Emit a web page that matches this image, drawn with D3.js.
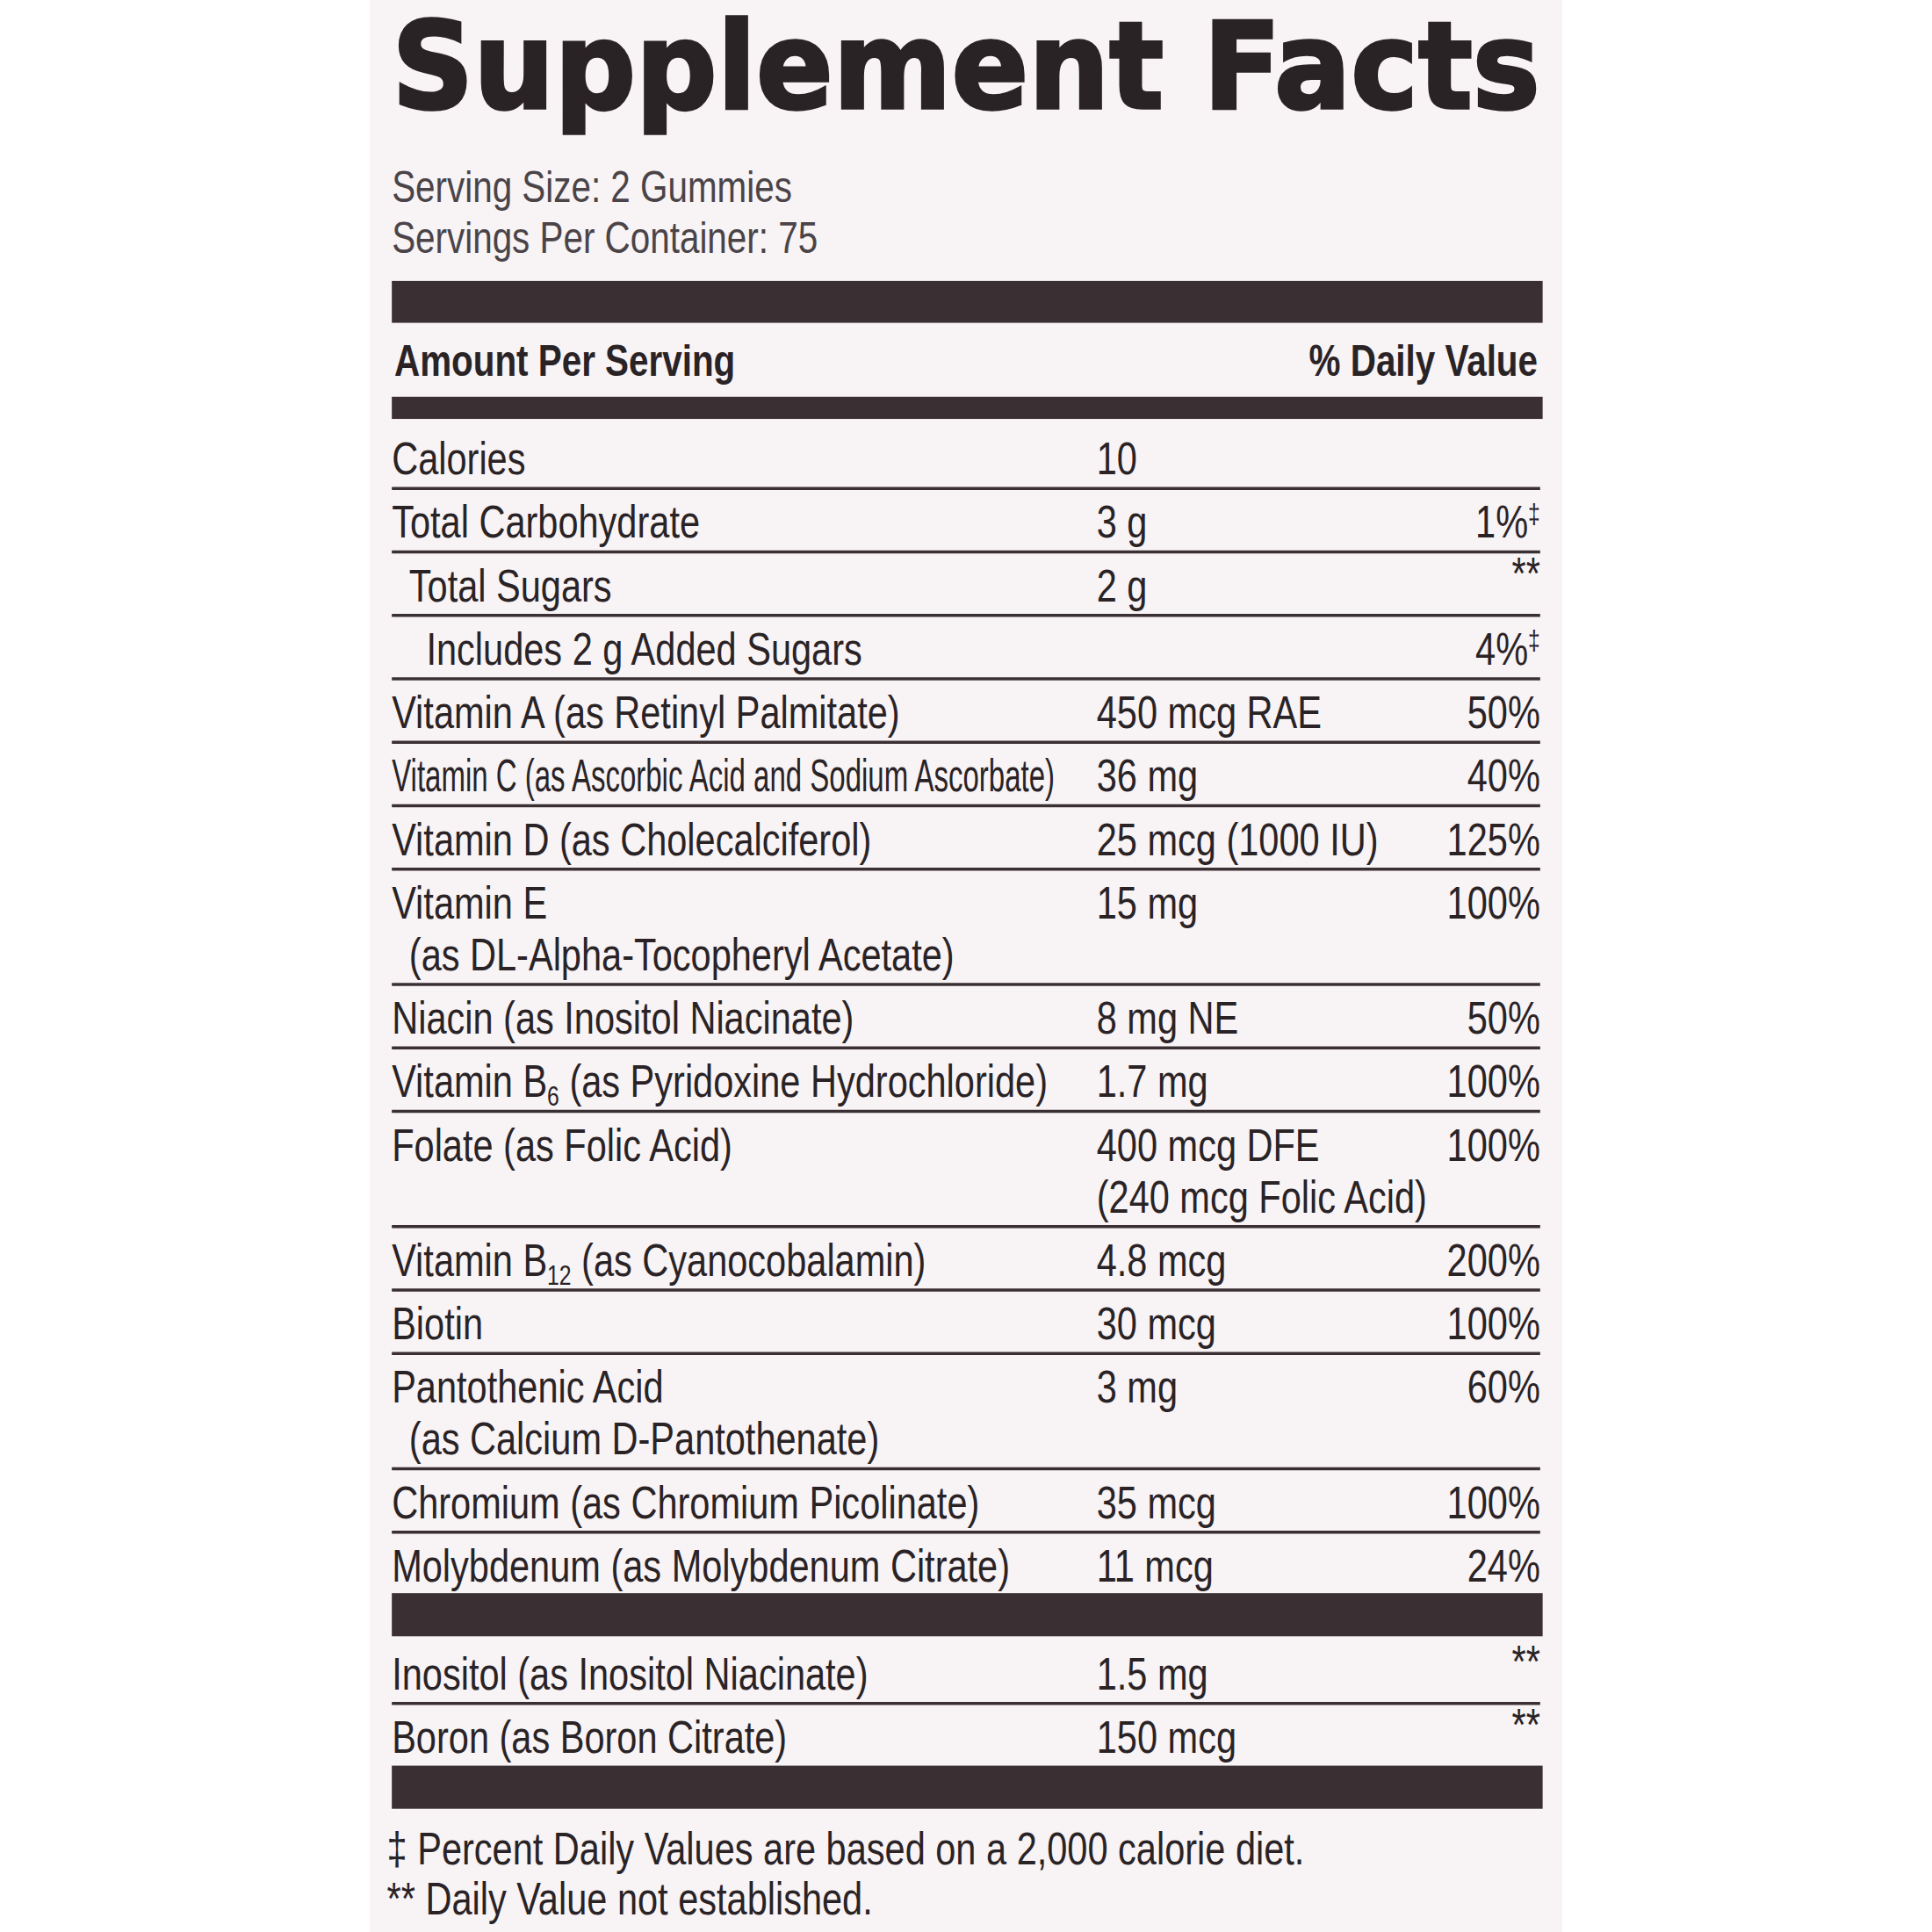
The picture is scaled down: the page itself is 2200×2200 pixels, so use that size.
<!DOCTYPE html>
<html><head><meta charset="utf-8">
<script src="https://cdn.jsdelivr.net/npm/d3@7"></script>
<style>body{margin:0;background:#fff}</style>
</head><body>
<svg id="chart" width="2200" height="2200" viewBox="0 0 1568 1568"></svg>
<script>
// label data
const servingLines = ["Serving Size: 2 Gummies", "Servings Per Container: 75"];
const names = ["Calories","Total Carbohydrate","Total Sugars","Includes 2 g Added Sugars",
  "Vitamin A (as Retinyl Palmitate)","Vitamin C (as Ascorbic Acid and Sodium Ascorbate)",
  "Vitamin D (as Cholecalciferol)","Vitamin E|(as DL-Alpha-Tocopheryl Acetate)",
  "Niacin (as Inositol Niacinate)","Vitamin B_6 (as Pyridoxine Hydrochloride)",
  "Folate (as Folic Acid)","Vitamin B_12 (as Cyanocobalamin)","Biotin",
  "Pantothenic Acid|(as Calcium D-Pantothenate)","Chromium (as Chromium Picolinate)",
  "Molybdenum (as Molybdenum Citrate)","Inositol (as Inositol Niacinate)","Boron (as Boron Citrate)"];
const amounts = ["10","3 g","2 g","","450 mcg RAE","36 mg","25 mcg (1000 IU)","15 mg","8 mg NE","1.7 mg",
  "400 mcg DFE|(240 mcg Folic Acid)","4.8 mcg","30 mcg","3 mg","35 mcg","11 mcg","1.5 mg","150 mcg"];
const dvs = ["","1%‡","**","4%‡","50%","40%","125%","100%","50%","100%","100%","200%","100%","60%","100%","24%","**","**"];
const indents = [0,0,14,28,0,0,0,0,0,0,0,0,0,0,0,0,0,0];
const footnotes = ["‡ Percent Daily Values are based on a 2,000 calorie diet.", "** Daily Value not established."];

const svg = d3.select("#chart");
const ink = "#2a2326", font = "'Liberation Sans',sans-serif";
const L = 318, R = 1250, colAmt = 890, SX = 0.8;

svg.append("rect").attr("x",300).attr("y",0).attr("width",968).attr("height",1568).attr("fill","#f8f3f5");

svg.append("text").attr("x",L).attr("y",88).attr("textLength",R-L).attr("lengthAdjust","spacingAndGlyphs")
  .attr("font-family","'DejaVu Sans',sans-serif").attr("font-weight","bold").attr("font-size",98)
  .attr("fill",ink).attr("stroke",ink).attr("stroke-width",2.5).text("Supplement Facts");

// condensed text helper
function ctext(x, y, anchor, size){
  return svg.append("text").attr("transform",`translate(${x},${y}) scale(${SX},1)`)
    .attr("text-anchor",anchor||"start").attr("font-family",font).attr("font-size",size||36).attr("fill",ink);
}

servingLines.forEach((d,i)=>ctext(L,164+i*41,"start",36).attr("fill","#4a4448").text(d));

function bar(y0,y1){svg.append("rect").attr("x",L).attr("y",y0).attr("width",R-L+2).attr("height",y1-y0).attr("fill","#3a3033");}
bar(228,262);
ctext(L+2,305,"start",36).attr("font-weight","bold").text("Amount Per Serving");
ctext(R-2,305,"end",36).attr("font-weight","bold").text("% Daily Value");
bar(322,340);

// row layout from line counts
const lines = names.map((n,i)=>Math.max(n.split("|").length, amounts[i].split("|").length));
const lineH = 42, rowPad = 9.5;
let y = 346; const tops = [];
lines.forEach((c,i)=>{ if(i===16) y = 1332; tops.push(y); y += c*lineH + rowPad; });

function writeText(isName, str, x, yb, fit){
  str.split("|").forEach((part,k)=>{
    const t = ctext(x + (k>0 && isName ? 14 : 0), yb + k*lineH, "start", 37);
    if(fit) t.attr("textLength",fit/SX).attr("lengthAdjust","spacingAndGlyphs");
    const m = part.match(/^(.*?)_(\d+)(.*)$/);
    if(m){ t.append("tspan").text(m[1]); t.append("tspan").attr("font-size",22).attr("dy",7).text(m[2]);
      t.append("tspan").attr("dy",-7).text(m[3]); }
    else t.text(part);
  });
}
names.forEach((n,i)=>{
  const yb = tops[i] + 39;
  writeText(true, n, L + indents[i], yb, i===5 ? 538 : null);
  writeText(false, amounts[i], colAmt, yb);
  if(dvs[i]){
    const t = ctext(R, dvs[i]==="**" ? yb-10 : yb, "end", 37);
    t.append("tspan").text(dvs[i].replace("‡",""));
    if(dvs[i].includes("‡")) t.append("tspan").attr("font-size",22).attr("dy",-12).text("‡");
  }
  const bottom = tops[i] + lines[i]*lineH + rowPad;
  if(i!==15 && i!==17) svg.append("line").attr("x1",L).attr("x2",R).attr("y1",bottom-1).attr("y2",bottom-1)
    .attr("stroke","#3a3033").attr("stroke-width",2.5);
});
bar(1293,1328);
bar(1433,1468);

footnotes.forEach((d,i)=>ctext(314,1513+i*41,"start",37).text(d));
</script>
</body></html>
